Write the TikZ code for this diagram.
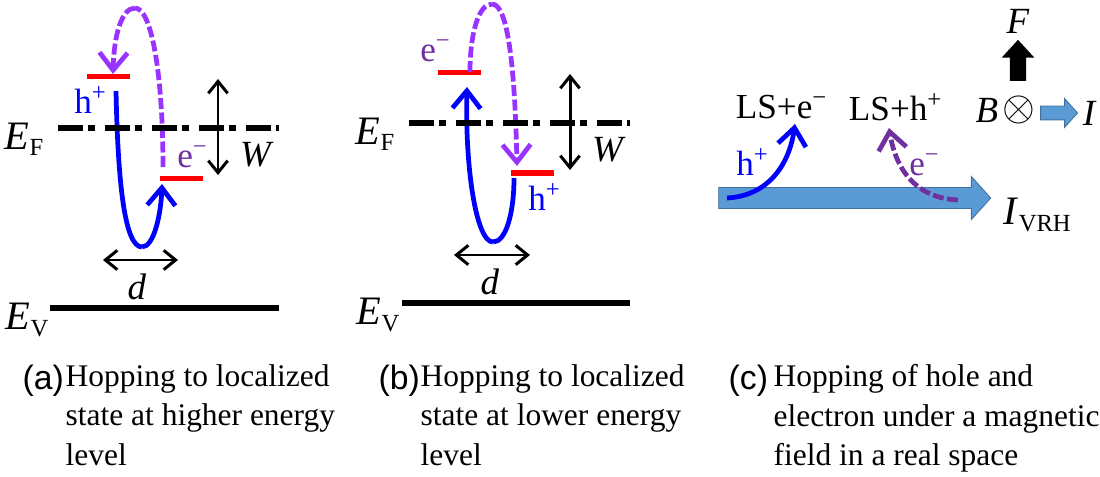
\documentclass[tikz,border=0pt]{standalone}
\usepackage{fontspec}
\setmainfont{Liberation Serif}
\newfontfamily\tagfont{Liberation Sans}
\usetikzlibrary{arrows.meta, shapes.arrows, positioning}
\definecolor{holeblue}{HTML}{0000FF}
\definecolor{hopviolet}{HTML}{9933FF}
\definecolor{elecviolet}{HTML}{7030A0}
\definecolor{currentblue}{HTML}{5B9BD5}
\definecolor{currentedge}{HTML}{41719C}
\newcommand{\symb}[2]{\textit{#1}\textsubscript{\fontsize{7}{8}\selectfont #2}}
\newcommand{\hole}{h\textsuperscript{+}}
\newcommand{\elec}{e\textsuperscript{−}}
\begin{document}
\begin{tikzpicture}[
    every node/.style={font=\fontsize{10}{12}\selectfont, inner sep=0pt},
    big/.style={font=\fontsize{11.5}{13}\selectfont},
    mid/.style={font=\fontsize{10.5}{12}\selectfont},
    level/.style={fill=red, minimum width=0.43cm, minimum height=0.05cm},
    fermi/.style={line width=1.45pt, dash pattern=on 0.25cm off 0.05cm on 0.07cm off 0.10cm},
    valence/.style={line width=1.5pt},
    bothway/.style={line width=0.85pt, {Straight Barb[length=3.4pt,width=5.5pt]}-{Straight Barb[length=3.4pt,width=5.5pt]}},
    holehop/.style={holeblue, line width=1.35pt},
    hophead/.style={-{Straight Barb[length=5pt,width=8pt]}},
    elechop/.style={hopviolet, line width=1.35pt, dash pattern=on 0.11cm off 0.035cm},
    current/.style={single arrow, fill=currentblue, draw=currentedge, line width=0.25pt, single arrow head indent=0pt},
    captag/.style={font=\fontsize{9.6}{11}\selectfont\tagfont},
    captext/.style={font=\fontsize{8.95}{11.2}\selectfont, align=left, anchor=north west}
  ]
  \useasboundingbox (0,0) rectangle (11,4.76);

  % Panel a
  \node[level] (upA) at (1.085,3.99) {};
  \node[level] (loA) at (1.81,2.98) {};
  \coordinate (holeA) at (1.16,3.85);
  \coordinate (botA) at (1.42,2.29);
  \coordinate (tipA) at (1.62,2.92);
  \coordinate (elecA) at (1.63,3.09);
  \coordinate (topA) at (1.35,4.68);
  \coordinate (landA) at (1.13,4.02);
  \draw[holehop] (holeA) .. controls +(0.02,-0.95) and +(-0.17,0) .. (botA);
  \draw[holehop, hophead] (botA) .. controls +(0.12,0) and +(-0.01,-0.3) .. (tipA);
  \draw[elechop] (elecA) .. controls +(0,0.9) and +(0.17,0) .. (topA);
  \draw[elechop, hophead] (topA) .. controls +(-0.13,0) and +(0.01,0.4) .. (landA);
  \coordinate (fermiAl) at (0.58,3.48);
  \coordinate (fermiAr) at (2.79,3.48);
  \draw[fermi] (fermiAl) -- (fermiAr);
  \coordinate (valAl) at (0.50,1.68);
  \coordinate (valAr) at (2.79,1.68);
  \draw[valence] (valAl) -- (valAr);
  \coordinate (wAt) at (2.18,3.97);
  \coordinate (wAb) at (2.18,3.01);
  \draw[bothway] (wAt) -- (wAb);
  \coordinate (dAl) at (1.03,2.16);
  \coordinate (dAr) at (1.78,2.16);
  \draw[bothway] (dAl) -- (dAr);
  \node[holeblue] (hA) at (0.91,3.76) {\hole};
  \node[elecviolet] (eA) at (1.93,3.19) {\elec};
  \node[mid] (wA) at (2.57,3.21) {\textit{W}};
  \node[mid] (dlabA) at (1.37,1.89) {\textit{d}};
  \node[big] (efA) at (0.25,3.37) {\symb{E}{F}};
  \node[big] (evA) at (0.28,1.56) {\symb{E}{V}};

  % Panel b
  \node[level] (upB) at (4.595,4.03) {};
  \node[level] (loB) at (5.325,3.03) {};
  \coordinate (holeB) at (5.14,2.98);
  \coordinate (botB) at (4.93,2.34);
  \coordinate (tipB) at (4.67,3.89);
  \coordinate (elecB) at (4.70,4.04);
  \coordinate (topB) at (4.92,4.72);
  \coordinate (landB) at (5.17,3.10);
  \draw[holehop] (holeB) .. controls +(0,-0.35) and +(0.13,0) .. (botB);
  \draw[holehop, hophead] (botB) .. controls +(-0.17,0) and +(-0.02,-0.8) .. (tipB);
  \draw[elechop] (elecB) .. controls +(0,0.4) and +(-0.13,0) .. (topB);
  \draw[elechop, hophead] (topB) .. controls +(0.17,0) and +(-0.02,0.9) .. (landB);
  \coordinate (fermiBl) at (4.09,3.53);
  \coordinate (fermiBr) at (6.30,3.53);
  \draw[fermi] (fermiBl) -- (fermiBr);
  \coordinate (valBl) at (4.02,1.73);
  \coordinate (valBr) at (6.30,1.73);
  \draw[valence] (valBl) -- (valBr);
  \coordinate (wBt) at (5.70,4.02);
  \coordinate (wBb) at (5.70,3.06);
  \draw[bothway] (wBt) -- (wBb);
  \coordinate (dBl) at (4.54,2.21);
  \coordinate (dBr) at (5.30,2.21);
  \draw[bothway] (dBl) -- (dBr);
  \node[elecviolet] (eB) at (4.36,4.25) {\elec};
  \node[holeblue] (hB) at (5.45,2.79) {\hole};
  \node[mid] (wB) at (6.09,3.26) {\textit{W}};
  \node[mid] (dlabB) at (4.90,1.94) {\textit{d}};
  \node[big] (efB) at (3.76,3.42) {\symb{E}{F}};
  \node[big] (evB) at (3.79,1.61) {\symb{E}{V}};

  % Panel c
  \node[current, inner sep=0.1cm, minimum height=2.72cm, single arrow head extend=0.11cm,
        single arrow tip angle=96] (vrh) at (8.50,2.78) {};
  \coordinate (holeC) at (7.27,2.78);
  \coordinate (tipC) at (7.95,3.52);
  \coordinate (elecC) at (9.58,2.76);
  \coordinate (tipD) at (8.89,3.48);
  \draw[holehop, hophead] (holeC) .. controls +(0.40,0.02) and +(-0.06,-0.42) .. (tipC);
  \draw[elecviolet, line width=1.35pt, dash pattern=on 0.11cm off 0.035cm, hophead]
    (elecC) .. controls +(-0.42,0.02) and +(0.07,-0.42) .. (tipD);
  \node (lse) at (7.82,3.69) {LS+\elec};
  \node (lsh) at (8.96,3.69) {LS+\hole};
  \node[holeblue] (hC) at (7.53,3.14) {\hole};
  \node[elecviolet] (eC) at (9.25,3.11) {\elec};
  \node[big, anchor=west] (ivrh) at (10.03,2.61) {\symb{I}{VRH}};

  % Force and field
  \node[mid] (force) at (10.18,4.55) {\textit{F}};
  \node[inner sep=0.075cm, minimum height=0.41cm, fill=black, single arrow, shape border rotate=90,
        single arrow head extend=0.08cm, single arrow tip angle=85, single arrow head indent=0pt,
        below=0.05cm of force] (forcearrow) {};
  \node[big] (otimes) at (10.19,3.66) {$\otimes$};
  \node[mid, left=0.03cm of otimes] (field) {\textit{B}};
  \node[current, inner sep=0.065cm, minimum height=0.37cm, single arrow head extend=0.075cm,
        single arrow tip angle=96, right=0.04cm of otimes, yshift=-0.03cm] (iarrow) {};
  \node[mid, right=0.04cm of iarrow] (ilab) {\textit{I}};

  % Captions
  \node[captag, anchor=base west] (tagA) at (0.22,0.87) {(a)};
  \node[captext] (capA) at (0.65,1.12) {Hopping to localized\\state at higher energy\\level};
  \node[captag, anchor=base west] (tagB) at (3.78,0.87) {(b)};
  \node[captext] (capB) at (4.20,1.12) {Hopping to localized\\state at lower energy\\level};
  \node[captag, anchor=base west] (tagC) at (7.28,0.87) {(c)};
  \node[captext] (capC) at (7.73,1.12) {Hopping of hole and\\electron under a magnetic\\field in a real space};
\end{tikzpicture}
\end{document}
